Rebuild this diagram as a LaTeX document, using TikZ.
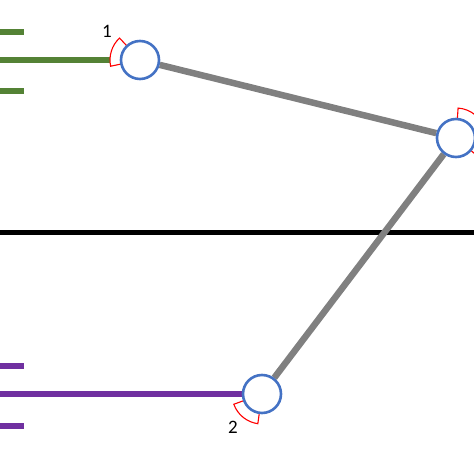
\documentclass[tikz,border=0pt]{standalone}
\usepackage{fontspec}
\setmainfont{Carlito}
\usepackage{tikz}
\usetikzlibrary{backgrounds}
\definecolor{barGreen}{HTML}{548235}
\definecolor{barPurple}{HTML}{7030A0}
\definecolor{jointBlue}{HTML}{4472C4}

\tikzset{
  joint/.style={circle, draw=jointBlue, line width=2.6pt, fill=white,
    minimum size=38pt, inner sep=0pt},
  link/.style={gray, line width=6.5pt},
  greenbar/.style={barGreen, line width=6pt},
  purplebar/.style={barPurple, line width=6pt},
  limit/.style={red, line width=1.1pt, fill=white},
  tag/.style={font=\fontsize{19}{19}\selectfont, inner sep=0pt},
}

\begin{document}
\begin{tikzpicture}[x=1pt, y=1pt]
\useasboundingbox (0,0) rectangle (474,474);

% --- Joints ---
\node[joint] (j1) at (140,414) {};
\node[joint] (j3) at (456,336) {};
\node[joint] (j2) at (262,80) {};

% --- Joint numbers ---
\node[tag] (n1) at (107,443) {1};
\node[tag] (n2) at (233,47) {2};

\begin{scope}[on background layer]
% --- Ground line ---
\coordinate (gl) at (0,241);
\coordinate (gr) at (474,241);
\draw[line width=5pt] (gl) -- (gr);

% --- Green bars ---
\foreach \y in {442,383}{
  \draw[greenbar] (0,\y) -- (24,\y);
}
\coordinate (g0) at (0,414);
\draw[greenbar] (g0) -- (j1);

% --- Purple bars ---
\foreach \y in {108,48}{
  \draw[purplebar] (0,\y) -- (24,\y);
}
\coordinate (p0) at (0,80);
\draw[purplebar] (p0) -- (j2);

% --- Links ---
\draw[link] (j1) -- (j3);
\draw[link] (j2) -- (j3);

% --- Joint limits ---
\foreach \j/\a/\b in {j1/133/192, j3/-40/86, j2/200/262}{
  \draw[limit] ([shift={(\a:19)}]\j.center) -- ([shift={(\a:30)}]\j.center)
    arc[start angle=\a, end angle=\b, radius=30]
    -- ([shift={(\b:19)}]\j.center);
}
\end{scope}
\end{tikzpicture}
\end{document}
